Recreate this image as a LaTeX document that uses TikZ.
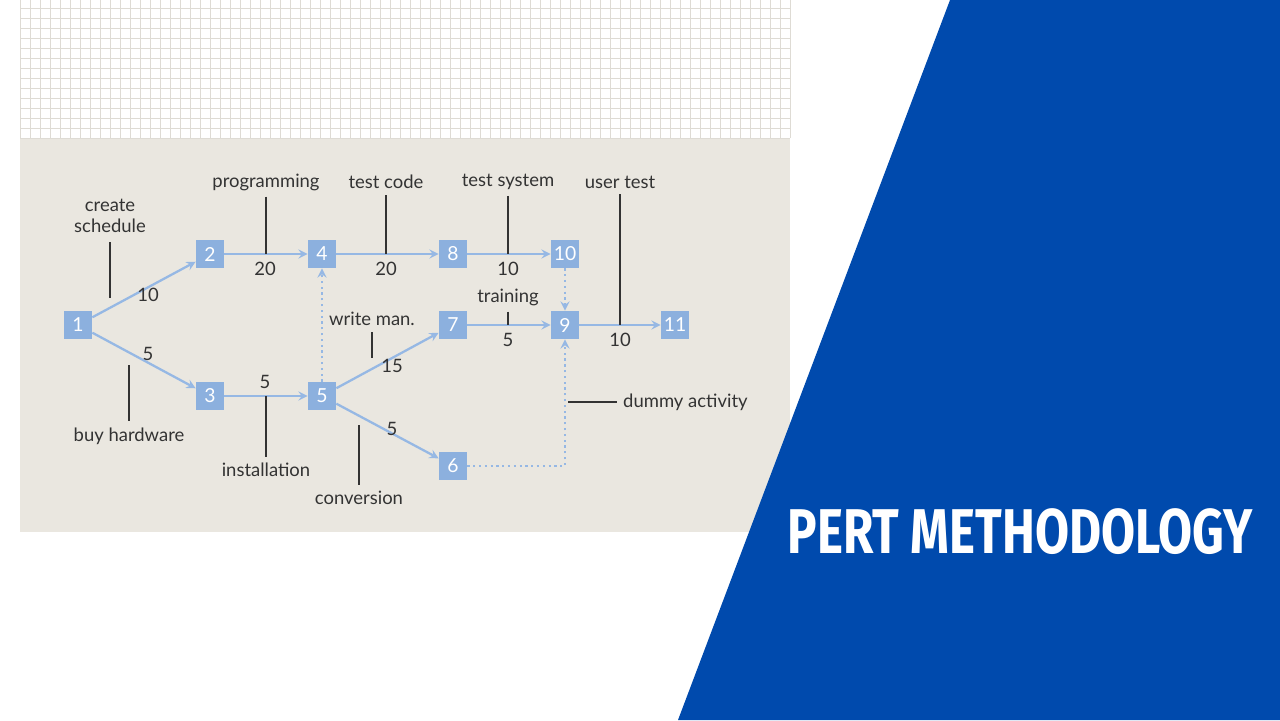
\documentclass[tikz,border=0pt]{standalone}
\usepackage{fontspec}
\setmainfont{Lato}
\newfontfamily\titlefont{Fira Sans}
\definecolor{panel}{RGB}{234,231,224}
\definecolor{gridc}{RGB}{222,219,212}
\definecolor{boxc}{RGB}{140,176,222}
\definecolor{arrc}{RGB}{150,184,228}
\definecolor{bandc}{RGB}{0,74,173}
\tikzset{
  ev/.style={fill=boxc,minimum size=28pt*0.57,inner sep=0pt,text=white,font=\fontsize{11}{12}\selectfont},
  act/.style={arrc,line width=1.3pt,-stealth},
  dum/.style={arrc,line width=1.3pt,dotted,-stealth},
  call/.style={black!80,line width=1pt},
  lab/.style={font=\fontsize{10.5}{12}\selectfont,text=black!80,align=center}
}
\begin{document}
\begin{tikzpicture}[x=0.02cm,y=-0.02cm]
\useasboundingbox (0,0) rectangle (1280,720);
\fill[white] (0,0) rectangle (1280,720);
% panel
\fill[panel] (20,138) rectangle (790,532);
\draw[gridc,line width=0.3pt,step=0.2cm,shift={(20,138)}] (0,0) grid (770,-394);
\fill[bandc] (950,0) -- (1280,0) -- (1280,720) -- (678,720) -- cycle;
\node[text=white,font=\titlefont\bfseries\fontsize{36}{40}\selectfont,xscale=0.78] (title) at (1020,532) {PERT METHODOLOGY};
% events
\node[ev] (n1) at (78,325) {1};
\node[ev] (n2) at (210,254) {2};
\node[ev] (n4) at (322,254) {4};
\node[ev] (n8) at (453,254) {8};
\node[ev] (n10) at (565,254) {10};
\node[ev] (n3) at (210,396) {3};
\node[ev] (n5) at (322,396) {5};
\node[ev] (n7) at (453,325) {7};
\node[ev] (n9) at (565,325) {9};
\node[ev] (n11) at (675,325) {11};
\node[ev] (n6) at (453,466) {6};
\coordinate (bend) at (565,466);
% activities
\draw[act] (n1) -- (n2);
\draw[act] (n1) -- (n3);
\draw[act] (n2) -- (n4);
\draw[act] (n4) -- (n8);
\draw[act] (n8) -- (n10);
\draw[act] (n3) -- (n5);
\draw[act] (n5) -- (n7);
\draw[act] (n5) -- (n6);
\draw[act] (n7) -- (n9);
\draw[act] (n9) -- (n11);
\draw[dum] (n5) -- (n4);
\draw[dum] (n10) -- (n9);
\draw[dum] (n6) -- (bend) -- (n9);
% durations
\foreach \t/\x/\y in {10/148/295, 5/148/354, 20/265/269, 20/386/269, 10/508/269, 5/265/382, 15/392/366, 5/508/340, 10/620/340, 5/392/429}
  \node[lab] at (\x,\y) {\t};
% callouts
\node[lab] (cs) at (110,216) {create\\schedule};
\draw[call] (110,242) -- (110,298);
\node[lab] (pr) at (266,182) {programming};
\draw[call] (pr.south) -- (266,254);
\node[lab] (tc) at (386,182) {test code};
\draw[call] (tc.south) -- (386,254);
\node[lab] (ts) at (508,182) {test system};
\draw[call] (ts.south) -- (508,254);
\node[lab] (ut) at (620,182) {user test};
\draw[call] (ut.south) -- (620,325);
\node[lab] (tr) at (508,297) {training};
\draw[call] (tr.south) -- (508,325);
\node[lab] (wm) at (372,319) {write man.};
\draw[call] (wm.south) -- (372,358);
\node[lab] (bh) at (129,436) {buy hardware};
\draw[call] (129,365) -- (bh.north);
\node[lab] (in) at (266,470) {installation};
\draw[call] (266,396) -- (in.north);
\node[lab] (cv) at (359,498) {conversion};
\draw[call] (359,425) -- (cv.north);
\node[lab,anchor=west] (da) at (617,402) {dummy activity};
\draw[call] (568,402) -- (da.west);
\end{tikzpicture}
\end{document}
